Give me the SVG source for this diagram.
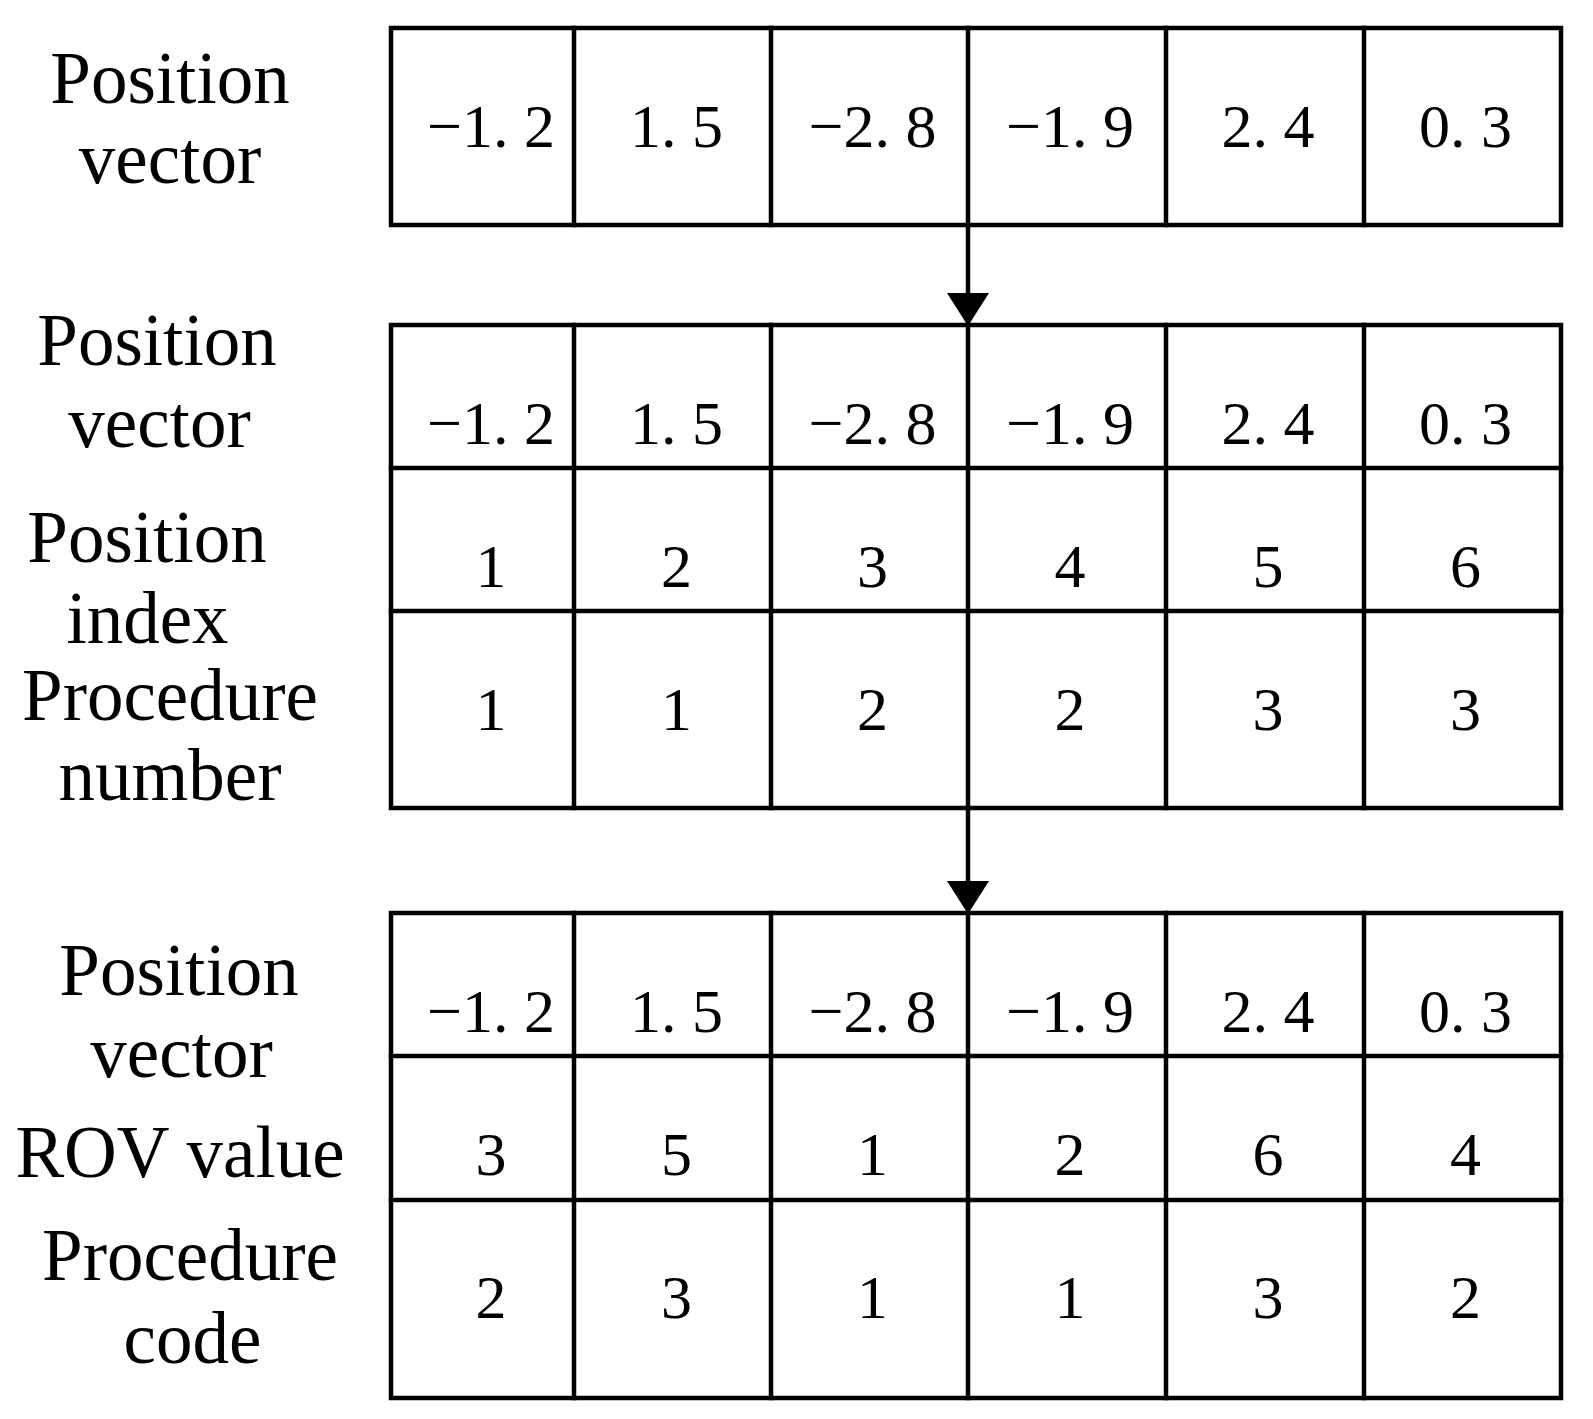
<svg xmlns="http://www.w3.org/2000/svg" width="1593" height="1419" viewBox="0 0 1593 1419">
<style>
.grid{fill:none;stroke:#000;stroke-width:4.5;stroke-linecap:square}
.num{font-family:"Liberation Serif","DejaVu Serif",serif;font-size:62px;text-anchor:middle;fill:#000}
.lbl{font-family:"Liberation Serif","DejaVu Serif",serif;font-size:73px;text-anchor:middle;fill:#000}
.conn{stroke:#000;stroke-width:4.5;fill:none}
.head{fill:#000}
</style>
<rect width="1593" height="1419" fill="#fff"/>

<g id="table1">
<rect class="grid" x="391" y="28" width="1170" height="197"/>
<path class="grid" d="M574,28V225M771,28V225M968,28V225M1166,28V225M1364,28V225"/>
<text class="lbl" x="170" y="103">Position</text>
<text class="lbl" x="170" y="183">vector</text>
<text class="num" x="491" y="147">−1. 2</text>
<text class="num" x="676.5" y="147">1. 5</text>
<text class="num" x="872.5" y="147">−2. 8</text>
<text class="num" x="1070" y="147">−1. 9</text>
<text class="num" x="1268" y="147">2. 4</text>
<text class="num" x="1465.5" y="147">0. 3</text>
</g>

<g id="table2">
<rect class="grid" x="391" y="325" width="1170" height="483"/>
<path class="grid" d="M574,325V808M771,325V808M968,325V808M1166,325V808M1364,325V808M391,468H1561M391,611H1561"/>
<text class="lbl" x="157" y="365">Position</text>
<text class="lbl" x="159.5" y="447">vector</text>
<text class="lbl" x="147" y="562">Position</text>
<text class="lbl" x="147.5" y="643">index</text>
<text class="lbl" x="170" y="720">Procedure</text>
<text class="lbl" x="170" y="800">number</text>
<text class="num" x="491" y="444">−1. 2</text>
<text class="num" x="676.5" y="444">1. 5</text>
<text class="num" x="872.5" y="444">−2. 8</text>
<text class="num" x="1070" y="444">−1. 9</text>
<text class="num" x="1268" y="444">2. 4</text>
<text class="num" x="1465.5" y="444">0. 3</text>
<text class="num" x="491" y="587">1</text>
<text class="num" x="676.5" y="587">2</text>
<text class="num" x="872.5" y="587">3</text>
<text class="num" x="1070" y="587">4</text>
<text class="num" x="1268" y="587">5</text>
<text class="num" x="1465.5" y="587">6</text>
<text class="num" x="491" y="730">1</text>
<text class="num" x="676.5" y="730">1</text>
<text class="num" x="872.5" y="730">2</text>
<text class="num" x="1070" y="730">2</text>
<text class="num" x="1268" y="730">3</text>
<text class="num" x="1465.5" y="730">3</text>
</g>

<g id="table3">
<rect class="grid" x="391" y="913" width="1170" height="485"/>
<path class="grid" d="M574,913V1398M771,913V1398M968,913V1398M1166,913V1398M1364,913V1398M391,1056H1561M391,1200H1561"/>
<text class="lbl" x="179" y="995">Position</text>
<text class="lbl" x="181.5" y="1077">vector</text>
<text class="lbl" x="180" y="1177">ROV value</text>
<text class="lbl" x="190" y="1280">Procedure</text>
<text class="lbl" x="192.5" y="1363">code</text>
<text class="num" x="491" y="1032">−1. 2</text>
<text class="num" x="676.5" y="1032">1. 5</text>
<text class="num" x="872.5" y="1032">−2. 8</text>
<text class="num" x="1070" y="1032">−1. 9</text>
<text class="num" x="1268" y="1032">2. 4</text>
<text class="num" x="1465.5" y="1032">0. 3</text>
<text class="num" x="491" y="1175">3</text>
<text class="num" x="676.5" y="1175">5</text>
<text class="num" x="872.5" y="1175">1</text>
<text class="num" x="1070" y="1175">2</text>
<text class="num" x="1268" y="1175">6</text>
<text class="num" x="1465.5" y="1175">4</text>
<text class="num" x="491" y="1318">2</text>
<text class="num" x="676.5" y="1318">3</text>
<text class="num" x="872.5" y="1318">1</text>
<text class="num" x="1070" y="1318">1</text>
<text class="num" x="1268" y="1318">3</text>
<text class="num" x="1465.5" y="1318">2</text>
</g>

<g id="connectors">
<line class="conn" x1="968" y1="225" x2="968" y2="296"/>
<path class="head" d="M947,293 L989,293 L968,326 Z"/>
<line class="conn" x1="968" y1="808" x2="968" y2="884"/>
<path class="head" d="M947,881 L989,881 L968,914 Z"/>
</g>
</svg>
